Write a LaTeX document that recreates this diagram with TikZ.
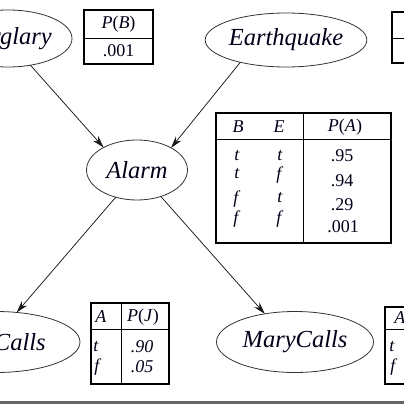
\documentclass[tikz,border=0pt]{standalone}
\usepackage{fontspec}
\setmainfont{Liberation Serif}
\usetikzlibrary{shapes.geometric,arrows.meta}
\begin{document}
\begin{tikzpicture}[x=1pt,y=-1pt,
  var/.style={ellipse,draw=black!80,line width=0.8pt,inner sep=0pt,outer sep=0pt,
    text=black!90!blue,font=\fontsize{24.5}{28}\selectfont\itshape},
  edge/.style={draw=black!90,line width=0.75pt,-{Stealth[length=12pt,width=7pt]}},
  tbl/.style={draw=black,line width=1.4pt},
  rulel/.style={draw=black,line width=0.7pt},
  cell/.style={inner sep=0pt,text=black!90!blue,font=\fontsize{18}{20}\selectfont}]
\useasboundingbox (0,0) rectangle (404,404);
\clip (0,0) rectangle (404,404);
% variables
\node[var,minimum width=128pt,minimum height=57pt] (b) at (8,38.5) {Burglary};
\node[var,minimum width=158pt,minimum height=54pt] (e) at (286,40) {Earthquake};
\node[var,minimum width=101pt,minimum height=60pt] (a) at (137,170) {Alarm};
\node[var,minimum width=168pt,minimum height=61pt] (j) at (-4,342) {JohnCalls};
\node[var,minimum width=157pt,minimum height=61pt] (m) at (295,342) {MaryCalls};
% edges
\draw[edge] (b.-50) -- (a.146);
\draw[edge] (e.-154) -- (a.33);
\draw[edge] (a.-128) -- (j.55);
\draw[edge] (a.-48) -- (m.137);
% P(B) table
\draw[tbl] (84,10) rectangle (153,64);
\draw[rulel] (84,38) -- (153,38);
\node[cell] (pbh) at (118.5,24) {\textit{P}(\textit{B})};
\node[cell] (pbv) at (118.5,51) {.001};
% P(E) table (cut off)
\draw[tbl] (392,12) rectangle (450,63);
\draw[rulel] (392,38) -- (450,38);
% P(A) table
\draw[tbl] (216,113) rectangle (391,243);
\draw[rulel] (216,139) -- (391,139);
\draw[rulel] (303,113) -- (303,243);
\node[cell] (hb) at (238,127) {\textit{B}};
\node[cell] (he) at (279,127) {\textit{E}};
\node[cell] (hpa) at (345,127) {\textit{P}(\textit{A})};
\node[cell] (b1) at (237,156) {\textit{t}};
\node[cell] (e1) at (280,156) {\textit{t}};
\node[cell] (b2) at (237,174) {\textit{t}};
\node[cell] (e2) at (280,175) {\textit{f}};
\node[cell] (b3) at (237,199) {\textit{f}};
\node[cell] (e3) at (280,198) {\textit{t}};
\node[cell] (b4) at (237,219) {\textit{f}};
\node[cell] (e4) at (280,219) {\textit{f}};
\node[cell] (v1) at (342,156) {.95};
\node[cell] (v2) at (342,181) {.94};
\node[cell] (v3) at (342,205) {.29};
\node[cell] (v4) at (343,227) {.001};
% P(J) table
\draw[tbl] (91,303) rectangle (169,384);
\draw[rulel] (91,329) -- (169,329);
\draw[rulel] (121,303) -- (121,384);
\node[cell] (ja) at (101,317) {\textit{A}};
\node[cell] (jp) at (143,317) {\textit{P}(\textit{J})};
\node[cell] (jt) at (96,347) {\textit{t}};
\node[cell] (jf) at (98,367) {\textit{f}};
\node[cell] (j1) at (142,347) {\textit{.90}};
\node[cell] (j2) at (142,367) {\textit{.05}};
% P(M) table (cut off)
\draw[tbl] (385,307) rectangle (450,384);
\draw[rulel] (385,329) -- (450,329);
\node[cell] (ma) at (400,318) {\textit{A}};
\node[cell] (mt) at (392,347) {\textit{t}};
\node[cell] (mf) at (394,367) {\textit{f}};
% bottom band
\fill[black!60] (0,401) rectangle (404,404);
\end{tikzpicture}
\end{document}
